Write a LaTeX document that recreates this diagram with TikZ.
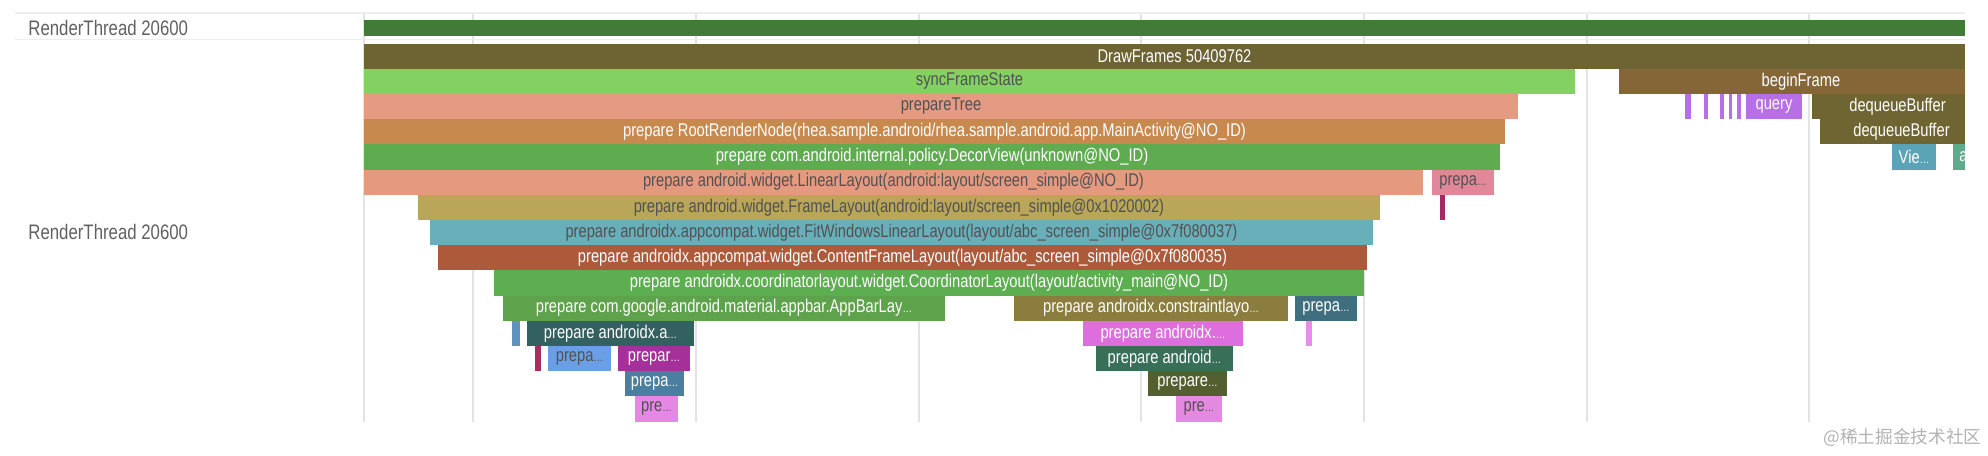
\documentclass[tikz,border=0pt]{standalone}
\usepackage{fontspec}
\setmainfont[FakeStretch=0.8]{Liberation Sans}
\newfontfamily\cjk{Noto Sans CJK SC}
\newcommand{\cutdots}{{\fontsize{6}{6}\selectfont …}}
\tikzset{
	barlabel/.style = {inner sep=0pt, font=\fontsize{9.2}{10}\selectfont},
	lightlabel/.style = {barlabel, text=white},
	darklabel/.style = {barlabel, text=black!68},
	threadlabel/.style = {inner sep=0pt, anchor=west, text=black!62, font=\fontsize{10.5}{11}\selectfont},
	gridline/.style = {draw=black!11, line width=0.6pt},
	rowline/.style = {draw=black!7, line width=0.6pt}
}
\begin{document}
\begin{tikzpicture}[x = 0.5pt, y = -12.6pt]
		\useasboundingbox (0,-1.726) rectangle (1988,16.33);
		% Grid
		\foreach \t in {364,473,696,919,1141,1364,1587,1809}
			\draw[gridline] (\t,-1.21) -- (\t,15);
		\draw[rowline] (15,-1.21) -- (1965,-1.21);
		\draw[rowline] (15,-0.16) -- (1965,-0.16);
		% Thread labels
		\node[threadlabel] (threadtop) at (28,-0.615) {RenderThread 20600};
		\node[threadlabel] (threadmid) at (28,7.48) {RenderThread 20600};
		\fill[fill={rgb,255:red,65;green,123;blue,55}] (364,-0.933) rectangle (1965,-0.298);
		% Rows 0 to 5
		\fill[fill={rgb,255:red,110;green,99;blue,51}] (364,0) rectangle (1965,1) node[midway, lightlabel, xshift=5pt] (drawframes) {DrawFrames 50409762};
		\fill[fill={rgb,255:red,130;green,209;blue,97}] (364,1) rectangle (1575,2) node[midway, darklabel] (syncstate) {syncFrameState};
		\fill[fill={rgb,255:red,132;green,102;blue,55}] (1619,1) rectangle (1965,2) node[midway, lightlabel, xshift=4.5pt] (beginframe) {beginFrame};
		\fill[fill={rgb,255:red,229;green,154;blue,131}] (364,2) rectangle (1518,3) node[midway, darklabel] (preparetree) {prepareTree};
		\fill[fill={rgb,255:red,200;green,137;blue,79}] (364,3) rectangle (1505,4) node[midway, lightlabel] (rootnode) {prepare RootRenderNode(rhea.sample.android/rhea.sample.android.app.MainActivity@NO\_ID)};
		\fill[fill={rgb,255:red,95;green,171;blue,80}] (364,4) rectangle (1500,5) node[midway, lightlabel] (decorview) {prepare com.android.internal.policy.DecorView(unknown@NO\_ID)};
		\fill[fill={rgb,255:red,229;green,154;blue,127}] (364,5) rectangle (1423,6) node[midway, darklabel] (linearlayout) {prepare android.widget.LinearLayout(android:layout/screen\_simple@NO\_ID)};
		\fill[fill={rgb,255:red,226;green,134;blue,154}] (1432,5) rectangle (1494,6) node[midway, darklabel] (linearprepa) {prepa\cutdots};
		% Query ticks and dequeue
		\foreach \a/\b in {1685/1691,1704/1708,1720/1724,1729/1732,1737/1741}
			\fill[fill={rgb,255:red,184;green,110;blue,230}] (\a,2) rectangle (\b,3);
		\fill[fill={rgb,255:red,184;green,110;blue,230}] (1746,2) rectangle (1802,3) node[midway, lightlabel] (query) {query};
		\fill[fill={rgb,255:red,111;green,101;blue,50}] (1812,2) rectangle (1965,3) node[midway, lightlabel, xshift=4.5pt] (dequeueone) {dequeueBuffer};
		\fill[fill={rgb,255:red,111;green,101;blue,50}] (1820,3) rectangle (1965,4) node[midway, lightlabel, xshift=4.5pt] (dequeuetwo) {dequeueBuffer};
		\fill[fill={rgb,255:red,91;green,164;blue,183}] (1892,4) rectangle (1936,5) node[midway, lightlabel] (viewslice) {Vie\cutdots};
		\begin{scope}
			\clip (1953,4) rectangle (1965,5);
			\fill[fill={rgb,255:red,95;green,170;blue,138}] (1953,4) rectangle (1965,5);
			\node[lightlabel, anchor=west] (cutslice) at (1959,4.5) {a};
		\end{scope}
		% Rows 6 to 10
		\fill[fill={rgb,255:red,185;green,166;blue,88}] (418,6) rectangle (1380,7) node[midway, darklabel] (framelayout) {prepare android.widget.FrameLayout(android:layout/screen\_simple@0x1020002)};
		\fill[fill={rgb,255:red,166;green,42;blue,98}] (1440,6) rectangle (1445,7);
		\fill[fill={rgb,255:red,104;green,175;blue,186}] (430,7) rectangle (1373,8) node[midway, darklabel] (fitwindows) {prepare androidx.appcompat.widget.FitWindowsLinearLayout(layout/abc\_screen\_simple@0x7f080037)};
		\fill[fill={rgb,255:red,173;green,90;blue,58}] (438,8) rectangle (1367,9) node[midway, lightlabel] (contentframe) {prepare androidx.appcompat.widget.ContentFrameLayout(layout/abc\_screen\_simple@0x7f080035)};
		\fill[fill={rgb,255:red,92;green,174;blue,80}] (494,9) rectangle (1364,10) node[midway, lightlabel] (coordinator) {prepare androidx.coordinatorlayout.widget.CoordinatorLayout(layout/activity\_main@NO\_ID)};
		\fill[fill={rgb,255:red,94;green,162;blue,76}] (503,10) rectangle (945,11) node[midway, lightlabel] (appbar) {prepare com.google.android.material.appbar.AppBarLay\cutdots};
		\fill[fill={rgb,255:red,138;green,125;blue,62}] (1014,10) rectangle (1288,11) node[midway, lightlabel] (constraint) {prepare androidx.constraintlayo\cutdots};
		\fill[fill={rgb,255:red,63;green,111;blue,127}] (1295,10) rectangle (1357,11) node[midway, lightlabel] (rightprepa) {prepa\cutdots};
		% Rows 11 to 14, left stack
		\fill[fill={rgb,255:red,95;green,147;blue,191}] (512,11) rectangle (520,12);
		\fill[fill={rgb,255:red,51;green,97;blue,95}] (527,11) rectangle (694,12) node[midway, lightlabel] (leftandroidx) {prepare androidx.a\cutdots};
		\fill[fill={rgb,255:red,169;green,45;blue,93}] (535,12) rectangle (541,13);
		\fill[fill={rgb,255:red,106;green,159;blue,229}] (548,12) rectangle (611,13) node[midway, darklabel] (leftprepa) {prepa\cutdots};
		\fill[fill={rgb,255:red,165;green,48;blue,154}] (618,12) rectangle (690,13) node[midway, lightlabel] (leftprepar) {prepar\cutdots};
		\fill[fill={rgb,255:red,74;green,127;blue,159}] (625,13) rectangle (684,14) node[midway, lightlabel] (leftsteel) {prepa\cutdots};
		\fill[fill={rgb,255:red,230;green,135;blue,230}] (635,14) rectangle (678,15) node[midway, darklabel] (leftpre) {pre\cutdots};
		% Rows 11 to 14, right stack
		\fill[fill={rgb,255:red,221;green,110;blue,222}] (1083,11) rectangle (1243,12) node[midway, lightlabel] (rightandroidx) {prepare androidx.\cutdots};
		\fill[fill={rgb,255:red,229;green,142;blue,232}] (1306,11) rectangle (1312,12);
		\fill[fill={rgb,255:red,55;green,111;blue,88}] (1096,12) rectangle (1233,13) node[midway, lightlabel] (rightandroid) {prepare android\cutdots};
		\fill[fill={rgb,255:red,83;green,95;blue,47}] (1148,13) rectangle (1227,14) node[midway, lightlabel] (rightprepare) {prepare\cutdots};
		\fill[fill={rgb,255:red,227;green,138;blue,224}] (1176,14) rectangle (1222,15) node[midway, darklabel] (rightpre) {pre\cutdots};
		% Watermark
		\node[inner sep=0pt, anchor=east, text=black!30, font=\cjk\fontsize{8.85}{10}\selectfont] (watermark) at (1982,15.65) {@稀土掘金技术社区};
	\end{tikzpicture}
\end{document}
